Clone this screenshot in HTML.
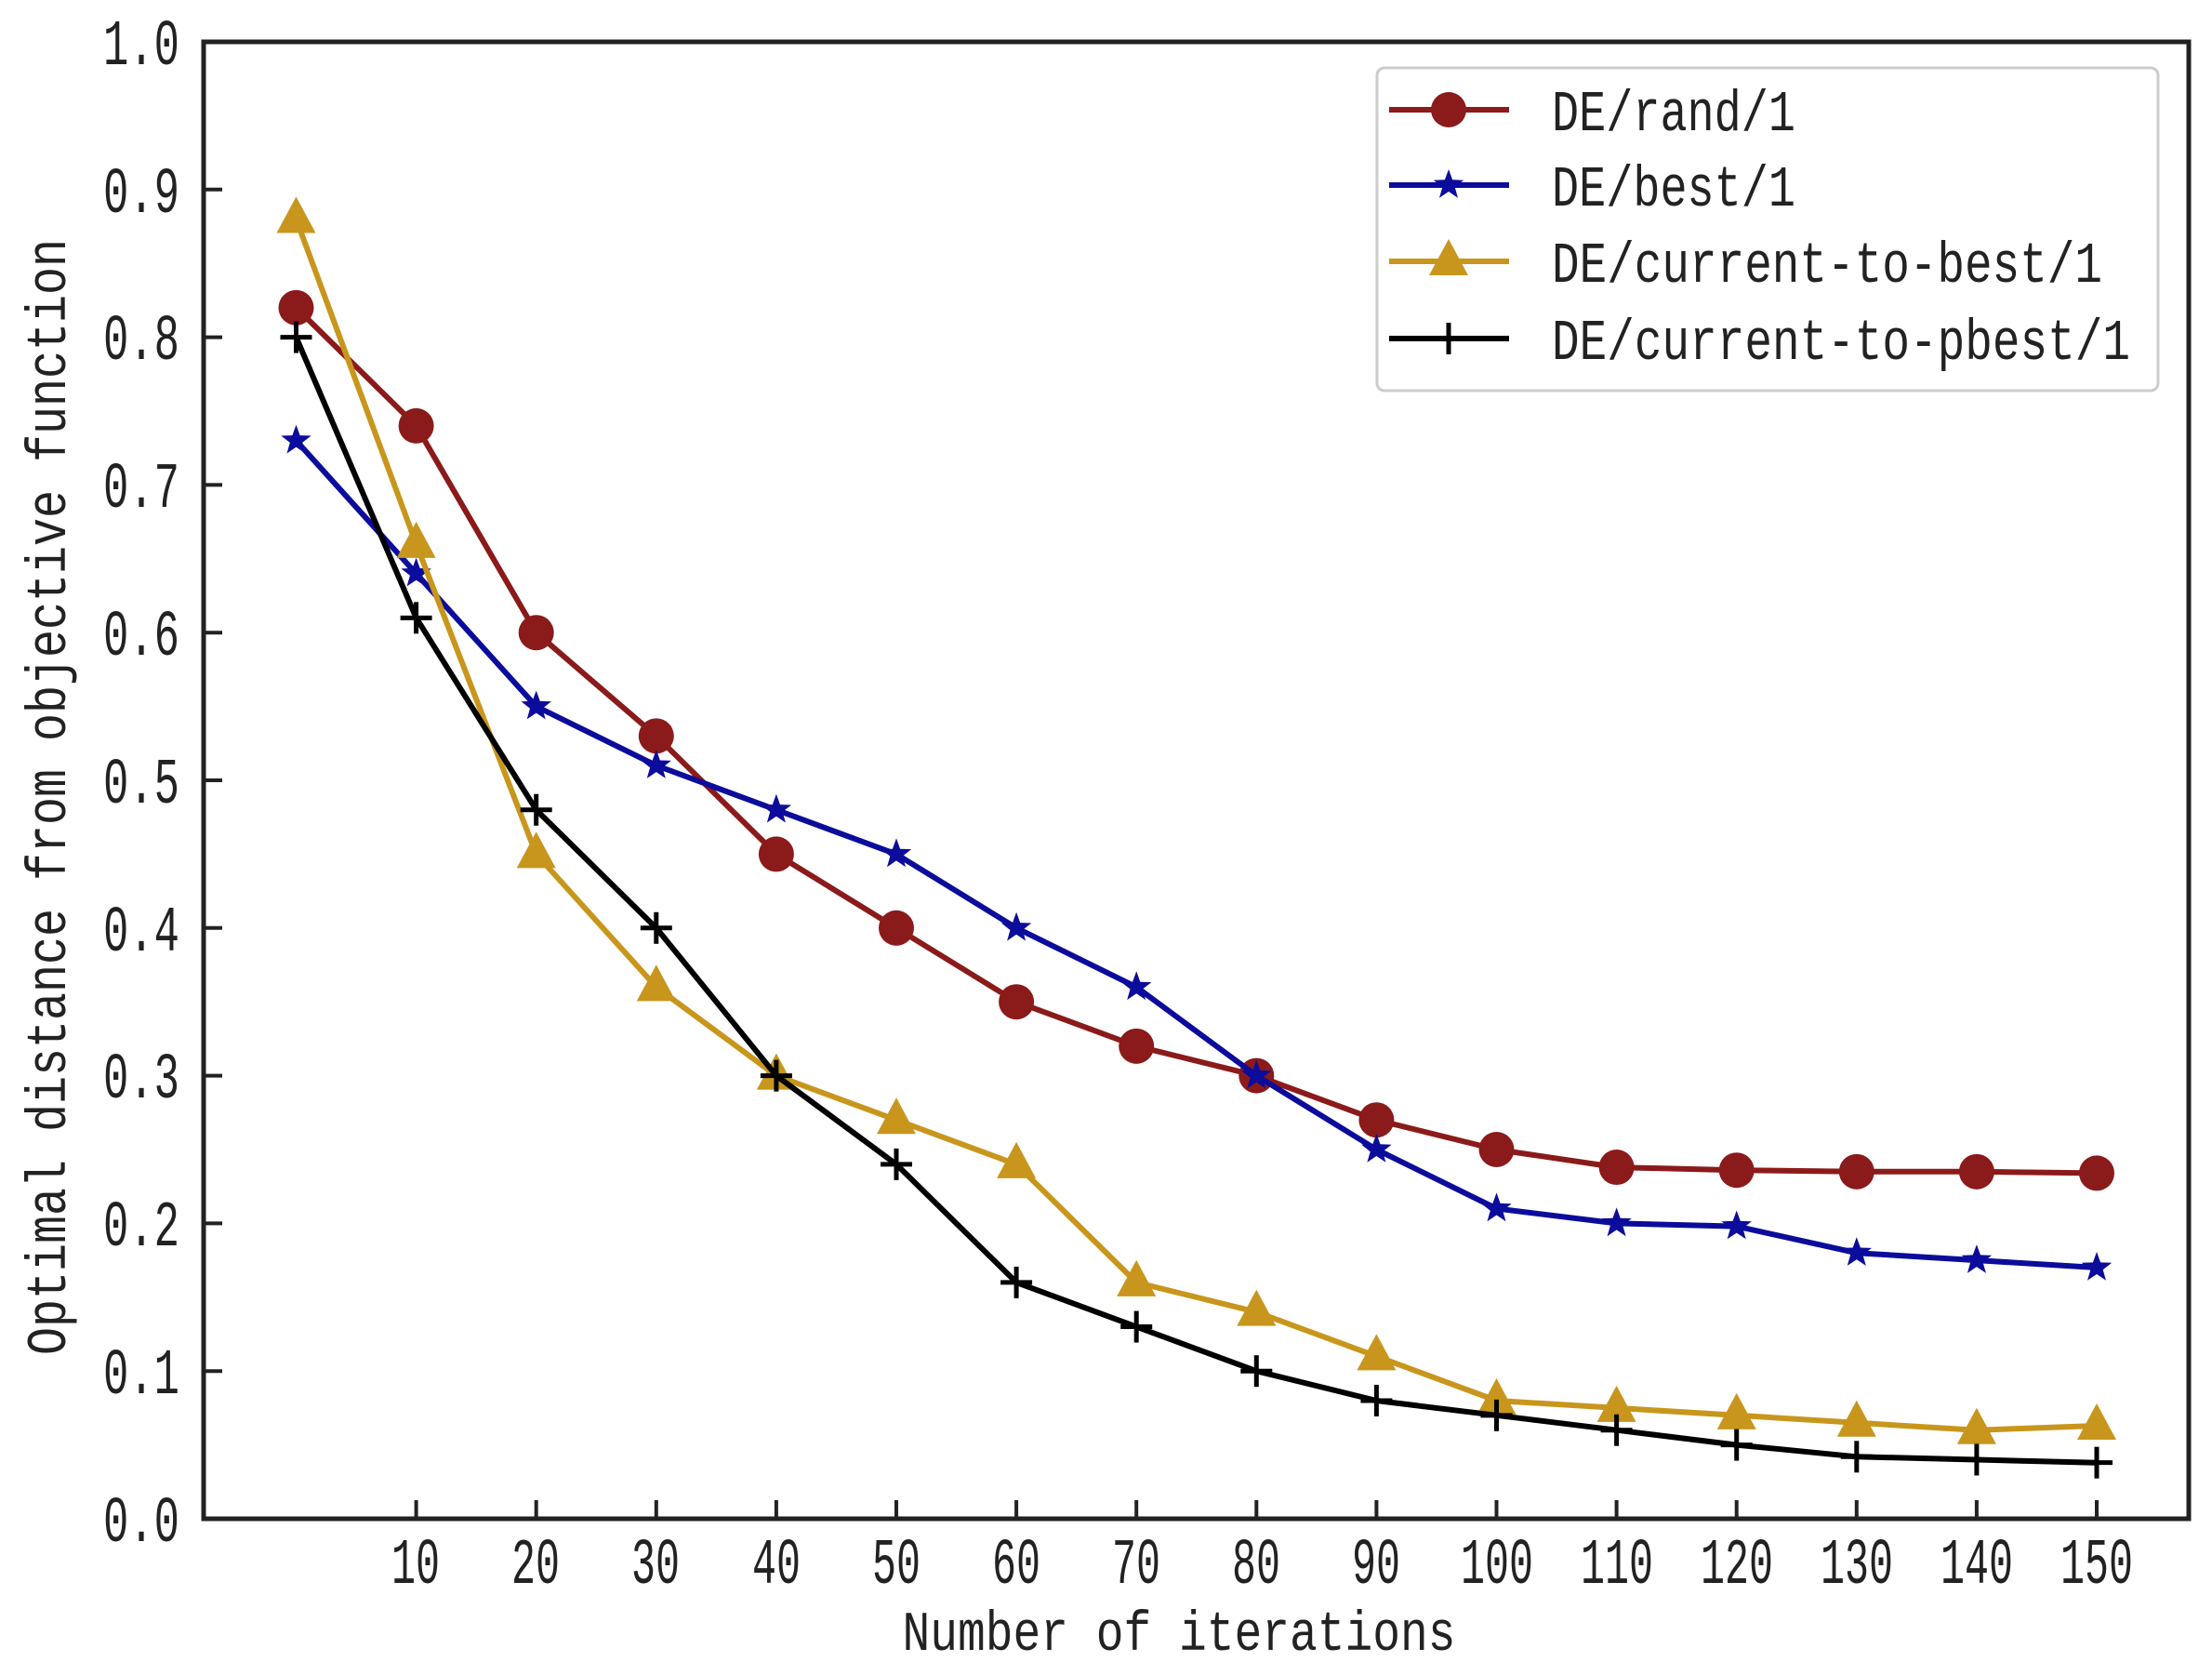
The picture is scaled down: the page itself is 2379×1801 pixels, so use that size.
<!DOCTYPE html>
<html><head><meta charset="utf-8"><style>
html,body{margin:0;padding:0;background:#fff;}
svg{display:block;}
text{font-family:"Liberation Mono","DejaVu Sans Mono",monospace;fill:#222;}
</style></head><body>
<svg id="s" width="2379" height="1801" viewBox="0 0 2379 1801" xmlns="http://www.w3.org/2000/svg">
<rect width="2379" height="1801" fill="#fff"/>
<g id="plot"></g>
<rect x="219" y="45" width="2135" height="1588" fill="none" stroke="#222" stroke-width="5"/>
<g id="ticks" stroke="#222" stroke-width="4"></g>
<g font-size="70" text-anchor="end">
<text x="193" y="1657" textLength="82" lengthAdjust="spacingAndGlyphs">0.0</text>
<text x="193" y="1498" textLength="82" lengthAdjust="spacingAndGlyphs">0.1</text>
<text x="193" y="1339" textLength="82" lengthAdjust="spacingAndGlyphs">0.2</text>
<text x="193" y="1180" textLength="82" lengthAdjust="spacingAndGlyphs">0.3</text>
<text x="193" y="1022" textLength="82" lengthAdjust="spacingAndGlyphs">0.4</text>
<text x="193" y="863" textLength="82" lengthAdjust="spacingAndGlyphs">0.5</text>
<text x="193" y="704" textLength="82" lengthAdjust="spacingAndGlyphs">0.6</text>
<text x="193" y="545" textLength="82" lengthAdjust="spacingAndGlyphs">0.7</text>
<text x="193" y="386" textLength="82" lengthAdjust="spacingAndGlyphs">0.8</text>
<text x="193" y="228" textLength="82" lengthAdjust="spacingAndGlyphs">0.9</text>
<text x="193" y="69" textLength="82" lengthAdjust="spacingAndGlyphs">1.0</text>
</g>
<g font-size="70" text-anchor="middle" lengthAdjust="spacingAndGlyphs">
<text x="447" y="1702" textLength="52" lengthAdjust="spacingAndGlyphs">10</text><text x="576" y="1702" textLength="52" lengthAdjust="spacingAndGlyphs">20</text><text x="705" y="1702" textLength="52" lengthAdjust="spacingAndGlyphs">30</text>
<text x="835" y="1702" textLength="52" lengthAdjust="spacingAndGlyphs">40</text><text x="964" y="1702" textLength="52" lengthAdjust="spacingAndGlyphs">50</text><text x="1093" y="1702" textLength="52" lengthAdjust="spacingAndGlyphs">60</text>
<text x="1222" y="1702" textLength="52" lengthAdjust="spacingAndGlyphs">70</text><text x="1351" y="1702" textLength="52" lengthAdjust="spacingAndGlyphs">80</text><text x="1480" y="1702" textLength="52" lengthAdjust="spacingAndGlyphs">90</text>
<text x="1610" y="1702" textLength="78" lengthAdjust="spacingAndGlyphs">100</text><text x="1739" y="1702" textLength="78" lengthAdjust="spacingAndGlyphs">110</text><text x="1868" y="1702" textLength="78" lengthAdjust="spacingAndGlyphs">120</text>
<text x="1997" y="1702" textLength="78" lengthAdjust="spacingAndGlyphs">130</text><text x="2126" y="1702" textLength="78" lengthAdjust="spacingAndGlyphs">140</text><text x="2255" y="1702" textLength="78" lengthAdjust="spacingAndGlyphs">150</text>
</g>
<text x="1268" y="1774" font-size="60" text-anchor="middle" textLength="595" lengthAdjust="spacingAndGlyphs">Number of iterations</text>
<text transform="translate(70,857) rotate(-90)" font-size="60" text-anchor="middle" textLength="1200" lengthAdjust="spacingAndGlyphs">Optimal distance from objective function</text>
<rect x="1481" y="73" width="840" height="347" rx="8" fill="#fff" stroke="#ccc" stroke-width="3"/>
<g id="leg"></g>
<g font-size="62">
<text x="1669" y="140" textLength="262" lengthAdjust="spacingAndGlyphs">DE/rand/1</text>
<text x="1669" y="221" textLength="262" lengthAdjust="spacingAndGlyphs">DE/best/1</text>
<text x="1669" y="303" textLength="592" lengthAdjust="spacingAndGlyphs">DE/current-to-best/1</text>
<text x="1669" y="386" textLength="622" lengthAdjust="spacingAndGlyphs">DE/current-to-pbest/1</text>
</g>
</svg>
<script>
var NS="http://www.w3.org/2000/svg";
function X(v){return 318.5+12.91*v;}function Y(v){return 1633-1588*v;}
function el(p,t,a){var e=document.createElementNS(NS,t);for(var k in a)e.setAttribute(k,a[k]);p.appendChild(e);return e;}
var tk=document.getElementById('ticks');
for(var i=1;i<=15;i++){var x=X(i*10);el(tk,'line',{x1:x,y1:1633,x2:x,y2:1613});}
for(var j=1;j<=9;j++){var y=Y(j/10);el(tk,'line',{x1:219,y1:y,x2:239,y2:y});}
var xs=[0,10,20,30,40,50,60,70,80,90,100,110,120,130,140,150];
var S=[
{c:'#8b1a1a',m:'o',d:[0.82,0.74,0.60,0.53,0.45,0.40,0.35,0.32,0.30,0.27,0.25,0.238,0.236,0.235,0.235,0.234]},
{c:'#0c0c9c',m:'*',d:[0.73,0.64,0.55,0.51,0.48,0.45,0.40,0.36,0.30,0.25,0.21,0.20,0.198,0.18,0.175,0.17]},
{c:'#c8961c',m:'^',d:[0.88,0.66,0.45,0.36,0.30,0.27,0.24,0.16,0.14,0.11,0.08,0.075,0.07,0.065,0.06,0.063]},
{c:'#000',m:'+',d:[0.80,0.61,0.48,0.40,0.30,0.24,0.16,0.13,0.10,0.08,0.07,0.06,0.05,0.042,0.04,0.038]}];
function mk(g,m,c,x,y){
 if(m=='o')el(g,'circle',{cx:x,cy:y,r:19,fill:c});
 else if(m=='^')el(g,'polygon',{points:(x)+','+(y-24)+' '+(x+21)+','+(y+15)+' '+(x-21)+','+(y+15),fill:c});
 else if(m=='*'){var p=[];for(var k=0;k<10;k++){var r=k%2?7:17,a=-Math.PI/2+k*Math.PI/5;p.push((x+r*Math.cos(a)).toFixed(1)+','+(y+r*Math.sin(a)).toFixed(1));}el(g,'polygon',{points:p.join(' '),fill:c});}
 else{el(g,'line',{x1:x-17,y1:y,x2:x+17,y2:y,stroke:c,'stroke-width':5});el(g,'line',{x1:x,y1:y-17,x2:x,y2:y+17,stroke:c,'stroke-width':5});}
}
var pl=document.getElementById('plot'),lg=document.getElementById('leg');
S.forEach(function(s,idx){
 var pts=s.d.map(function(v,i){return X(xs[i]).toFixed(1)+','+Y(v).toFixed(1);}).join(' ');
 el(pl,'polyline',{points:pts,fill:'none',stroke:s.c,'stroke-width':6,'stroke-linejoin':'round'});
 s.d.forEach(function(v,i){mk(pl,s.m,s.c,X(xs[i]),Y(v));});
 var ly=[118,199,281,364][idx];
 el(lg,'line',{x1:1494,y1:ly,x2:1623,y2:ly,stroke:s.c,'stroke-width':6});
 mk(lg,s.m,s.c,1558,ly);
});
</script>
</body></html>
